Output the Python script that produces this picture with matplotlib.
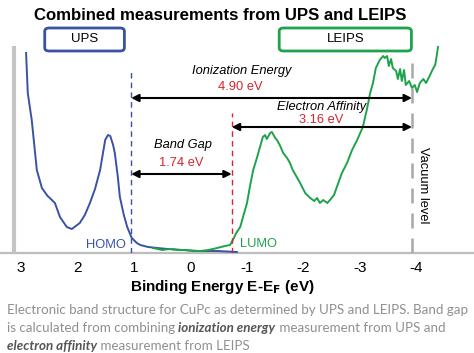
import matplotlib
matplotlib.use('Agg')
import matplotlib.pyplot as plt
from matplotlib.patches import FancyBboxPatch

# Data (binding energy in eV, intensity in arbitrary units)
ups_x = [2.91, 2.88, 2.81, 2.72, 2.63, 2.53, 2.49, 2.40, 2.31, 2.19, 2.10, 1.96,
         1.87, 1.78, 1.69, 1.60, 1.51, 1.46, 1.42, 1.37, 1.34, 1.29, 1.25, 1.18,
         1.12, 1.04, 0.95, 0.89, 0.75, 0.59, 0.40, 0.13, -0.15, -0.47, -0.82]
ups_y = [200, 160, 133, 83, 65, 57, 55, 50, 36, 26, 24, 30,
         38, 50, 64, 83, 113, 118, 117, 108, 100, 78, 56, 38,
         26, 15, 10, 8, 6, 5, 4, 3, 2, 2, 1]

leips_x = [0.66, 0.50, 0.36, 0.22, 0.10, -0.05, -0.17, -0.32, -0.47, -0.61, -0.70,
           -0.75, -0.81, -0.88, -0.95, -1.00, -1.05, -1.11, -1.18, -1.23, -1.28,
           -1.32, -1.35, -1.41, -1.44, -1.50, -1.53, -1.58, -1.64, -1.71, -1.76,
           -1.81, -1.88, -1.94, -2.03, -2.12, -2.19, -2.24, -2.29, -2.35, -2.42,
           -2.47, -2.54, -2.59, -2.68, -2.77, -2.86, -2.95, -3.05, -3.12, -3.18,
           -3.23, -3.28, -3.35, -3.41, -3.44, -3.48, -3.51, -3.55, -3.58, -3.64,
           -3.67, -3.71, -3.74, -3.78, -3.81, -3.87, -3.92, -3.97, -4.01, -4.06,
           -4.12, -4.17, -4.24, -4.29, -4.33, -4.36, -4.38]
leips_y = [5, 3, 4, 3, 3, 2, 2, 3, 5, 7, 8,
           13, 20, 26, 40, 50, 66, 83, 96, 106, 116,
           118, 114, 120, 121, 115, 113, 108, 100, 95, 90,
           83, 76, 70, 60, 55, 52, 55, 50, 53, 50,
           53, 58, 66, 80, 90, 103, 113, 126, 143, 160,
           170, 185, 193, 197, 195, 197, 187, 194, 185, 182,
           174, 184, 172, 183, 168, 172, 165, 168, 161, 170,
           174, 170, 178, 184, 188, 198, 206]

homo = 1.05
lumo = -0.73
vacuum = -3.92
ionization = '4.90 eV'
affinity = '3.16 eV'
band_gap = '1.74 eV'
ticks = [3, 2, 1, 0, -1, -2, -3, -4]
tick_labels = ['3', '2', '1', '0', '-1', '-2', '-3', '-4']

blue = '#3a52a5'
green = '#1ea34a'
red = '#d22630'
grey = '#bdbdbd'

plt.rcParams['font.family'] = ['Liberation Sans', 'DejaVu Sans']

fig = plt.figure(figsize=(4.74, 3.53), dpi=100)
ax = fig.add_axes([0, 1 - 253 / 353, 1, 253 / 353])
ax.set_xlim(3 + 21 / 56.5, 3 - 453 / 56.5)
ax.set_ylim(0, 253)
for s in ax.spines.values():
    s.set_visible(False)
ax.set_yticks([])
ax.set_xticks(ticks)
ax.set_xticklabels(tick_labels, fontsize=11)
ax.tick_params(axis='x', length=0, pad=6)
ax.axhline(0, color=grey, lw=1.6, clip_on=False)

# left grey bar
ax.plot([3.12, 3.12], [0, 207], color='#c4c4c4', lw=3, solid_capstyle='butt')

ax.plot(ups_x, ups_y, color=blue, lw=1.4)
ax.plot(leips_x, leips_y, color=green, lw=1.4)

# level lines
ax.plot([homo, homo], [0, 181], color=blue, lw=1, ls=(0, (4, 3)))
ax.plot([lumo, lumo], [0, 140], color=red, lw=1, ls=(0, (4, 3)))
ax.plot([vacuum, vacuum], [0, 192], color='#a8a8a8', lw=1.8, ls=(0, (6, 4)))

arrow = dict(arrowstyle='<|-|>', color='black', lw=1.5, mutation_scale=11,
             shrinkA=0, shrinkB=0)
ax.annotate('', xy=(vacuum, 155), xytext=(homo, 155), arrowprops=arrow)
ax.annotate('', xy=(vacuum, 126), xytext=(lumo, 126), arrowprops=arrow)
ax.annotate('', xy=(lumo, 79), xytext=(homo, 79), arrowprops=arrow)

fs = 9.3
ax.text(-0.91, 182, 'Ionization Energy', style='italic', fontsize=fs, ha='center', va='center')
ax.text(-0.88, 166, ionization, color=red, fontsize=fs, ha='center', va='center')
ax.text(-2.32, 146, 'Electron Affinity', style='italic', fontsize=fs, ha='center', va='center')
ax.text(-2.32, 133, affinity, color=red, fontsize=fs, ha='center', va='center')
ax.text(0.14, 108, 'Band Gap', style='italic', fontsize=fs, ha='center', va='center')
ax.text(0.17, 90, band_gap, color=red, fontsize=fs, ha='center', va='center')
ax.text(1.50, 8, 'HOMO', color=blue, fontsize=fs, ha='center', va='center')
ax.text(-1.21, 9, 'LUMO', color=green, fontsize=fs, ha='center', va='center')
ax.text(-4.12, 68, 'Vacuum level', rotation=-90, fontsize=fs, ha='center', va='center')

# UPS / LEIPS boxes
for x0, x1, label, col in [(2.58, 1.17, 'UPS', blue), (-1.57, -3.91, 'LEIPS', green)]:
    box = FancyBboxPatch((x1, 202), x0 - x1, 23,
                         boxstyle='round,pad=0,rounding_size=0.08',
                         mutation_aspect=40, fc='white', ec=col, lw=2)
    ax.add_patch(box)
    ax.text((x0 + x1) / 2, 213.5, label, fontsize=9.5, ha='center', va='center')

fig.text(0.465, 1 - 15 / 353, 'Combined measurements from UPS and LEIPS',
         fontsize=12.1, fontweight='bold', ha='center', va='center')
fig.text(0.468, 1 - 287 / 353, r'Binding Energy E-E$_\mathbf{F}$ (eV)',
         fontsize=11, fontweight='bold', ha='center', va='center')

# caption with mixed styles
cap_col = '#8f8f8f'
cap_font = ['Lato', 'DejaVu Sans']
caption = [
    [('Electronic band structure for CuPc as determined by UPS and LEIPS. Band gap', {})],
    [('is calculated from combining ', {}),
     ('ionization energy', {'fontweight': 'bold', 'style': 'italic', 'color': '#555555'}),
     (' measurement from UPS and', {})],
    [('electron affinity', {'fontweight': 'bold', 'style': 'italic', 'color': '#555555'}),
     (' measurement from LEIPS', {})],
]
renderer = fig.canvas.get_renderer()
for i, line in enumerate(caption):
    x = 7 / 474
    y = 1 - (310 + 18 * i) / 353
    for txt, style in line:
        kw = dict(fontsize=9.6, color=cap_col, family=cap_font, va='center', ha='left')
        kw.update(style)
        t = fig.text(x, y, txt, **kw)
        x += t.get_window_extent(renderer).width / fig.bbox.width

fig.savefig('out.png', dpi=100)
